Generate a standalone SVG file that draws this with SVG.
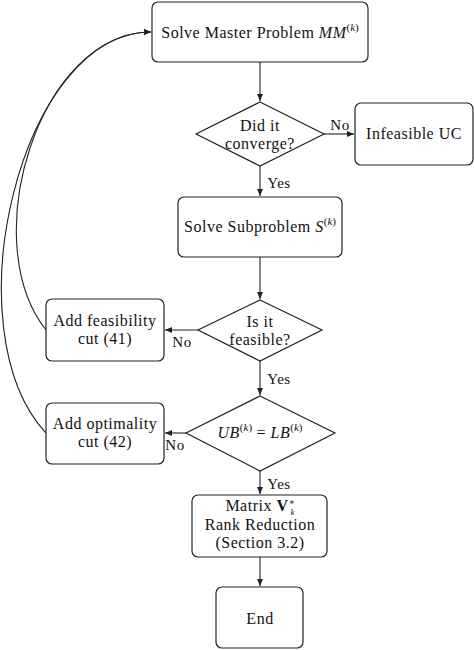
<svg xmlns="http://www.w3.org/2000/svg" width="474" height="650" viewBox="0 0 474 650">
<defs>
<marker id="arr" markerWidth="8" markerHeight="6" refX="7" refY="3" orient="auto" markerUnits="userSpaceOnUse">
<path d="M0,0 L7,3 L0,6 Z" fill="#222"/>
</marker>
<style>
.box{fill:#fff;stroke:#222;stroke-width:1.2}
.ln{fill:none;stroke:#222;stroke-width:1.1}
text{font-family:"Liberation Serif","DejaVu Serif",serif;font-size:16px;letter-spacing:0.5px;fill:#111;text-anchor:middle}
.lbl{font-size:15px}
.it{font-style:italic}
.sup{font-size:11px;letter-spacing:0}
.ss{font-size:9px;letter-spacing:0}
</style>
</defs>
<rect width="474" height="650" fill="#fff"/>
<g id="connectors">
<path class="ln" d="M260,62 L260,101" marker-end="url(#arr)"/>
<path class="ln" d="M324,134 L354,134" marker-end="url(#arr)"/>
<path class="ln" d="M260,166 L260,196" marker-end="url(#arr)"/>
<path class="ln" d="M260,257 L260,299" marker-end="url(#arr)"/>
<path class="ln" d="M198,330 L165,330" marker-end="url(#arr)"/>
<path class="ln" d="M260,361 L260,395" marker-end="url(#arr)"/>
<path class="ln" d="M186,433 L165,433" marker-end="url(#arr)"/>
<path class="ln" d="M260,471 L260,494" marker-end="url(#arr)"/>
<path class="ln" d="M260,557 L260,586" marker-end="url(#arr)"/>
<path class="ln" d="M46,330 C-25,240 40,32 151,32" marker-end="url(#arr)"/>
<path class="ln" d="M46,433 C-50,330 20,32 151,32" marker-end="url(#arr)"/>
<text class="lbl" x="340" y="130">No</text>
<text class="lbl" x="279" y="188">Yes</text>
<text class="lbl" x="182" y="347">No</text>
<text class="lbl" x="279" y="384">Yes</text>
<text class="lbl" x="175" y="450">No</text>
<text class="lbl" x="279" y="489">Yes</text>
</g>
<g id="master">
<rect class="box" x="152" y="2" width="216" height="60" rx="6"/>
<text x="260" y="38">Solve Master Problem <tspan class="it">MM</tspan><tspan class="sup" dy="-7">(<tspan class="it">k</tspan>)</tspan></text>
</g>
<g id="converge">
<polygon class="box" points="260,102 324,134 260,166 196,134"/>
<text x="260" y="131">Did it</text>
<text x="260" y="149">converge?</text>
</g>
<g id="infeasible">
<rect class="box" x="355" y="103" width="118" height="62" rx="6"/>
<text x="414" y="139">Infeasible UC</text>
</g>
<g id="subproblem">
<rect class="box" x="178" y="197" width="164" height="60" rx="6"/>
<text x="260" y="232">Solve Subproblem <tspan class="it">S</tspan><tspan class="sup" dy="-7">(<tspan class="it">k</tspan>)</tspan></text>
</g>
<g id="feasible">
<polygon class="box" points="260,300 322,330 260,361 198,330"/>
<text x="260" y="327">Is it</text>
<text x="260" y="345">feasible?</text>
</g>
<g id="feascut">
<rect class="box" x="46" y="299" width="118" height="62" rx="6"/>
<text x="105" y="326">Add feasibility</text>
<text x="105" y="344">cut (41)</text>
</g>
<g id="bounds">
<polygon class="box" points="260,396 335,433 260,471 186,433"/>
<text x="260" y="438"><tspan class="it">UB</tspan><tspan class="sup" dy="-7">(<tspan class="it">k</tspan>)</tspan><tspan dy="7"> = </tspan><tspan class="it">LB</tspan><tspan class="sup" dy="-7">(<tspan class="it">k</tspan>)</tspan></text>
</g>
<g id="optcut">
<rect class="box" x="46" y="403" width="118" height="61" rx="6"/>
<text x="105" y="429">Add optimality</text>
<text x="105" y="447">cut (42)</text>
</g>
<g id="rank">
<rect class="box" x="192" y="495" width="135" height="62" rx="6"/>
<text x="260" y="511">Matrix <tspan font-weight="bold">V</tspan><tspan class="ss" dy="-6">∗</tspan><tspan class="ss it" dx="-4" dy="10">k</tspan></text>
<text x="260" y="530">Rank Reduction</text>
<text x="260" y="548">(Section 3.2)</text>
</g>
<g id="end">
<rect class="box" x="216" y="587" width="87" height="61" rx="6"/>
<text x="260" y="624">End</text>
</g>
</svg>
